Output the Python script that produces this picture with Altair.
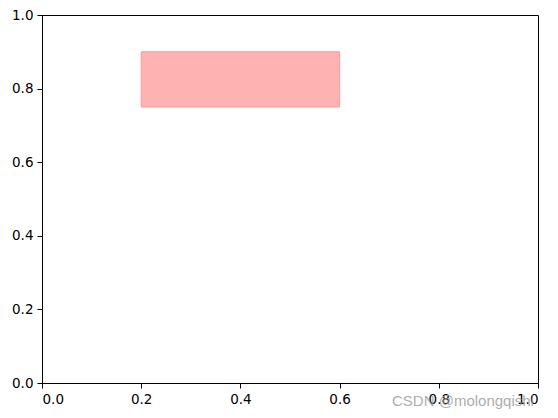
import altair as alt
import pandas as pd

# Rectangle data
rect_x = [0.2]
rect_x2 = [0.6]
rect_y = [0.75]
rect_y2 = [0.9]

tick_values = [0.0, 0.2, 0.4, 0.6, 0.8, 1.0]
watermark = "CSDN @molongqishi"

df = pd.DataFrame({"x": rect_x, "x2": rect_x2, "y": rect_y, "y2": rect_y2})

axis_common = dict(
    values=tick_values, format=".1f", grid=False,
    domainColor="black", domainWidth=1, tickColor="black", tickSize=5, tickWidth=1,
    labelFont="DejaVu Sans", labelFontSize=13.5, labelColor="black", labelPadding=4, title=None,
)

rect = alt.Chart(df).mark_rect(fill="#ffb2b2", stroke="#ff9999", strokeWidth=1).encode(
    x=alt.X("x:Q", scale=alt.Scale(domain=[0, 1], nice=False), axis=alt.Axis(**axis_common)),
    x2="x2:Q",
    y=alt.Y("y:Q", scale=alt.Scale(domain=[0, 1], nice=False), axis=alt.Axis(**axis_common)),
    y2="y2:Q",
)

wm = alt.Chart(pd.DataFrame({"t": [watermark]})).mark_text(
    align="left", baseline="alphabetic", font="Liberation Sans", fontSize=15,
    color="#999999", opacity=0.8, clip=False,
).encode(x=alt.value(350), y=alt.value(391), text="t:N")

chart = alt.layer(rect, wm).properties(
    width=496, height=368,
    padding={"left": 34, "top": 7, "right": 12, "bottom": 27},
    autosize=alt.AutoSizeParams(type="none"),
).configure(background="white").configure_view(stroke="black", strokeWidth=1)

chart.save("out.html", embed_options={"renderer": "svg", "actions": False})
